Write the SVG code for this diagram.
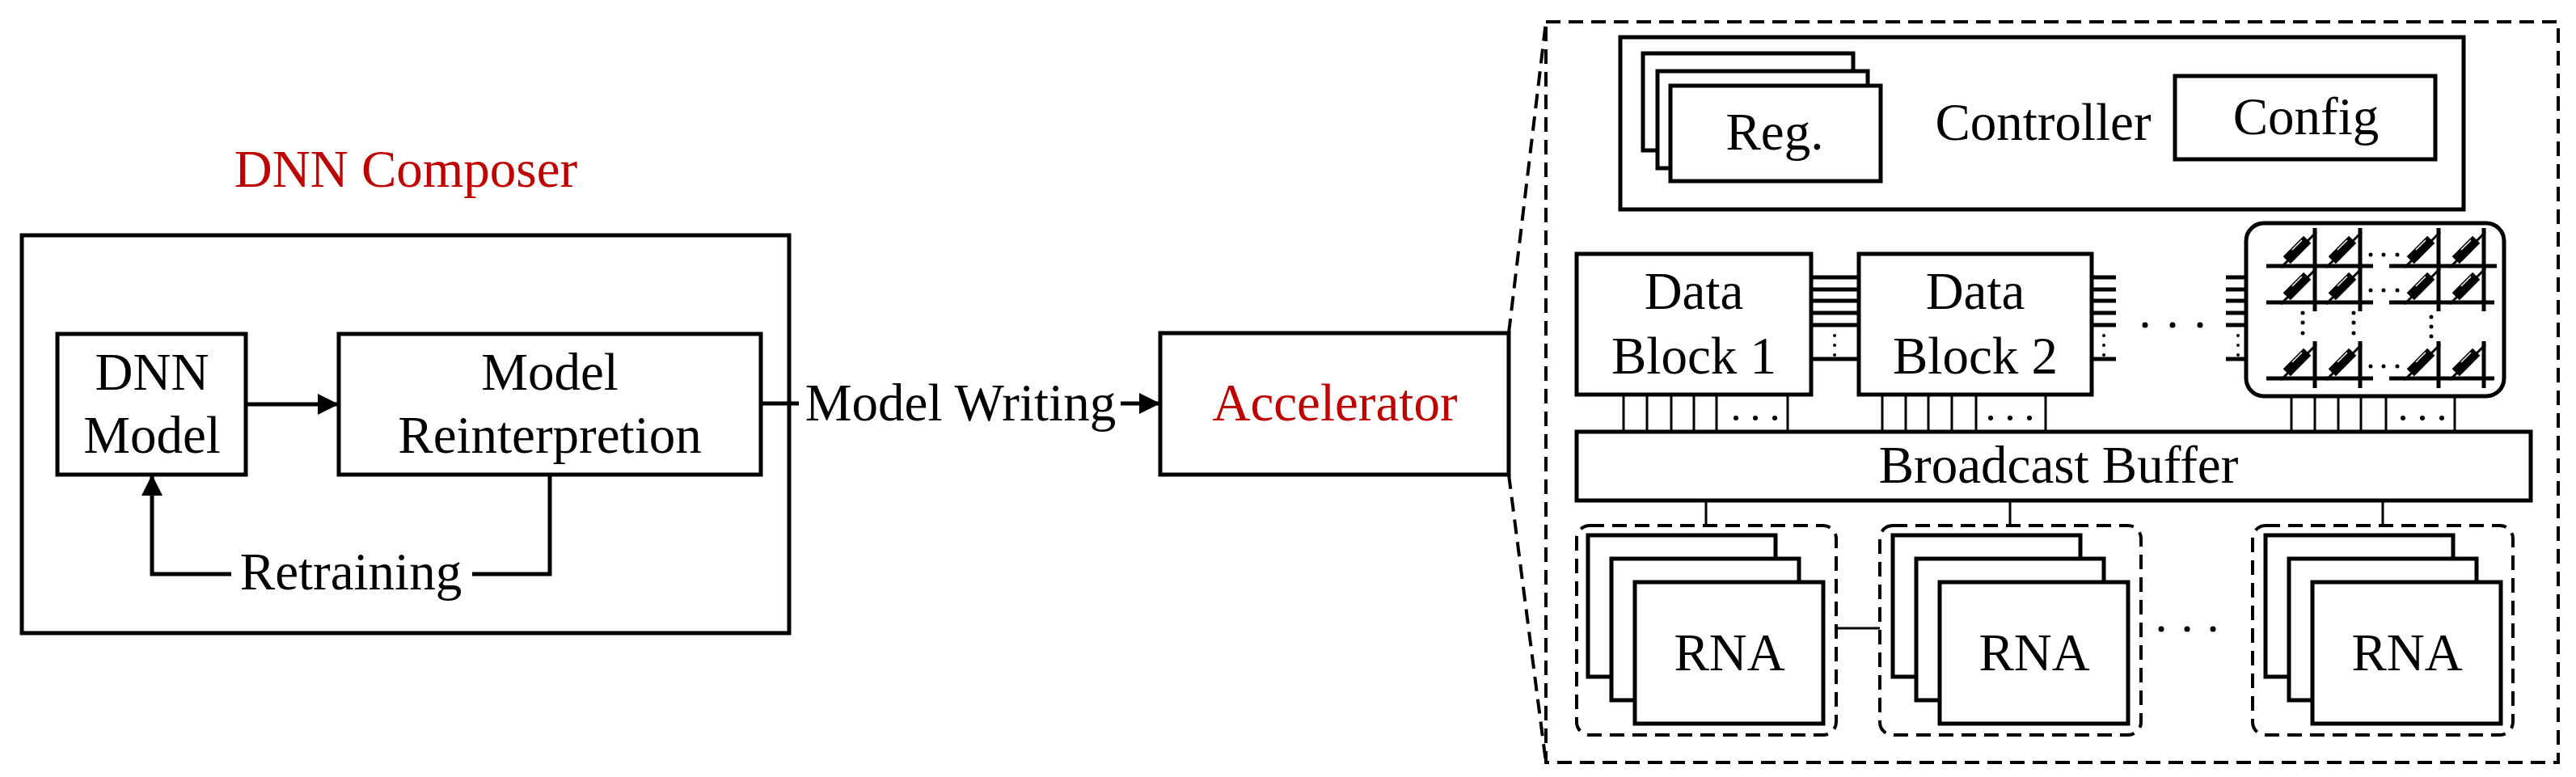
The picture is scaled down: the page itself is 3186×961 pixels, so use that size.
<svg xmlns="http://www.w3.org/2000/svg" width="3186" height="961" viewBox="0 0 3186 961">
<defs>
<style>
text{font-family:"Liberation Serif","Times New Roman",serif;font-size:65px;fill:#000;text-anchor:middle}
.red{fill:#c00000}
.b{fill:#fff;stroke:#000;stroke-width:5}
.l{fill:none;stroke:#000;stroke-width:5}
.t{fill:none;stroke:#000;stroke-width:3}
.d{fill:none;stroke:#000;stroke-width:4;stroke-dasharray:18 10}
.dot{fill:#000}
</style>
<marker id="ar" viewBox="0 0 10 10" refX="10" refY="5" markerWidth="28" markerHeight="26" markerUnits="userSpaceOnUse" orient="auto"><path d="M0,0L10,5L0,10Z"/></marker>
<g id="mem"><line x1="-42" y1="2" x2="2" y2="-42" stroke="#000" stroke-width="3"/><rect x="-18" y="-6.5" width="36" height="13" transform="translate(-22,-20) rotate(-45)" fill="#000"/><line x1="-28" y1="-20" x2="-16" y2="-32" stroke="#fff" stroke-width="1.5"/></g>
<g id="rnastack"><rect class="b" x="1964" y="662" width="232" height="175"/><rect class="b" x="1993" y="691" width="232" height="175"/><rect class="b" x="2022" y="720" width="233" height="175"/><text x="2139" y="829">RNA</text></g>
</defs>
<g id="composer-title"><text class="red" x="502" y="231">DNN Composer</text></g>
<g id="composer"><rect class="l" x="27" y="291" width="949" height="492"/></g>
<g id="dnn-model"><rect class="b" x="71" y="413" width="233" height="174"/><text x="188" y="482">DNN</text><text x="188" y="560">Model</text></g>
<g id="reinterp"><rect class="b" x="419" y="413" width="522" height="174"/><text x="680" y="482">Model</text><text x="680" y="560">Reinterpretion</text></g>
<g id="accelerator"><rect class="b" x="1435" y="412" width="431" height="175"/><text class="red" x="1651" y="520">Accelerator</text></g>
<g id="zoom-box"><rect class="d" x="1912" y="27" width="1252" height="916"/></g>
<g id="controller"><rect class="b" x="2004" y="46" width="1043" height="213"/><text x="2527" y="173">Controller</text>
<rect class="b" x="2032" y="66" width="260" height="120"/><rect class="b" x="2050" y="88" width="260" height="120"/><rect class="b" x="2066" y="106" width="260" height="118"/><text x="2195" y="185">Reg.</text>
<rect class="b" x="2690" y="94" width="322" height="103"/><text x="2852" y="166">Config</text></g>
<g id="data-block-1"><rect class="b" x="1950" y="314" width="290" height="174"/><text x="2095" y="382">Data</text><text x="2095" y="462">Block 1</text></g>
<g id="data-block-2"><rect class="b" x="2299" y="314" width="288" height="174"/><text x="2443" y="382">Data</text><text x="2443" y="462">Block 2</text></g>
<g id="crossbar"><rect class="b" x="2778" y="276" width="319" height="214" rx="22"/>
<g class="l" stroke-width="4">
<line x1="2863" y1="282" x2="2863" y2="385"/><line x1="2919" y1="282" x2="2919" y2="385"/><line x1="3016" y1="282" x2="3016" y2="385"/><line x1="3072" y1="282" x2="3072" y2="385"/>
<line x1="2863" y1="422" x2="2863" y2="480"/><line x1="2919" y1="422" x2="2919" y2="480"/><line x1="3016" y1="422" x2="3016" y2="480"/><line x1="3072" y1="422" x2="3072" y2="480"/>
<line x1="2803" y1="329" x2="2935" y2="329"/><line x1="2955" y1="329" x2="3088" y2="329"/>
<line x1="2803" y1="374" x2="2935" y2="374"/><line x1="2955" y1="374" x2="3085" y2="374"/>
<line x1="2803" y1="468" x2="2935" y2="468"/><line x1="2955" y1="468" x2="3085" y2="468"/>
</g>
<use href="#mem" x="2863" y="329"/><use href="#mem" x="2919" y="329"/><use href="#mem" x="3016" y="329"/><use href="#mem" x="3072" y="329"/>
<use href="#mem" x="2863" y="374"/><use href="#mem" x="2919" y="374"/><use href="#mem" x="3016" y="374"/><use href="#mem" x="3072" y="374"/>
<use href="#mem" x="2863" y="468"/><use href="#mem" x="2919" y="468"/><use href="#mem" x="3016" y="468"/><use href="#mem" x="3072" y="468"/>
<g class="dot">
<circle cx="2932" cy="315" r="2.5"/><circle cx="2948" cy="315" r="2.5"/><circle cx="2965" cy="315" r="2.5"/>
<circle cx="2932" cy="359" r="2.5"/><circle cx="2948" cy="359" r="2.5"/><circle cx="2965" cy="359" r="2.5"/>
<circle cx="2932" cy="453" r="2.5"/><circle cx="2948" cy="453" r="2.5"/><circle cx="2965" cy="453" r="2.5"/>
<circle cx="2848" cy="387" r="2.5"/><circle cx="2848" cy="399" r="2.5"/><circle cx="2848" cy="412" r="2.5"/>
<circle cx="2911" cy="387" r="2.5"/><circle cx="2911" cy="399" r="2.5"/><circle cx="2911" cy="412" r="2.5"/>
<circle cx="3007" cy="392" r="2.5"/><circle cx="3007" cy="404" r="2.5"/><circle cx="3007" cy="416" r="2.5"/>
</g></g>
<g id="broadcast-buffer"><rect class="b" x="1950" y="534" width="1180" height="85"/><text x="2546" y="597">Broadcast Buffer</text></g>
<g id="rna-group-1"><rect class="d" x="1950" y="650" width="321" height="259" rx="16"/><use href="#rnastack"/></g>
<g id="rna-group-2"><rect class="d" x="2325" y="650" width="323" height="259" rx="16"/><use href="#rnastack" x="377"/></g>
<g id="rna-group-3"><rect class="d" x="2786" y="650" width="322" height="259" rx="16"/><use href="#rnastack" x="838"/></g>
<g id="connectors">
<line class="l" x1="304" y1="500" x2="419" y2="500" marker-end="url(#ar)"/>
<polyline class="l" points="680,587 680,710 584,710"/>
<polyline class="l" points="286,710 188,710 188,587" marker-end="url(#ar)"/>
<text x="434" y="729">Retraining</text>
<line class="l" x1="941" y1="499" x2="988" y2="499"/>
<text x="1188" y="520">Model Writing</text>
<line class="l" x1="1386" y1="499" x2="1435" y2="499" marker-end="url(#ar)"/>
<line class="d" x1="1866" y1="412" x2="1912" y2="27"/>
<line class="d" x1="1866" y1="587" x2="1912" y2="943"/>
<g class="l" stroke-width="4">
<line x1="2240" y1="343" x2="2299" y2="343"/><line x1="2240" y1="358" x2="2299" y2="358"/><line x1="2240" y1="372" x2="2299" y2="372"/><line x1="2240" y1="387" x2="2299" y2="387"/><line x1="2240" y1="402" x2="2299" y2="402"/><line x1="2240" y1="444" x2="2299" y2="444"/>
<line x1="2587" y1="343" x2="2617" y2="343"/><line x1="2587" y1="358" x2="2617" y2="358"/><line x1="2587" y1="372" x2="2617" y2="372"/><line x1="2587" y1="387" x2="2617" y2="387"/><line x1="2587" y1="402" x2="2617" y2="402"/><line x1="2587" y1="444" x2="2617" y2="444"/>
<line x1="2753" y1="343" x2="2778" y2="343"/><line x1="2753" y1="358" x2="2778" y2="358"/><line x1="2753" y1="372" x2="2778" y2="372"/><line x1="2753" y1="387" x2="2778" y2="387"/><line x1="2753" y1="402" x2="2778" y2="402"/><line x1="2753" y1="444" x2="2778" y2="444"/>
</g>
<g class="dot">
<circle cx="2269" cy="415" r="2"/><circle cx="2269" cy="427" r="2"/><circle cx="2269" cy="439" r="2"/>
<circle cx="2602" cy="415" r="2"/><circle cx="2602" cy="427" r="2"/><circle cx="2602" cy="439" r="2"/>
<circle cx="2768" cy="415" r="2"/><circle cx="2768" cy="427" r="2"/><circle cx="2768" cy="439" r="2"/>
<circle cx="2653" cy="402" r="3.5"/><circle cx="2687" cy="402" r="3.5"/><circle cx="2721" cy="402" r="3.5"/>
<circle cx="2147" cy="517" r="3"/><circle cx="2171" cy="517" r="3"/><circle cx="2195" cy="517" r="3"/>
<circle cx="2462" cy="517" r="3"/><circle cx="2486" cy="517" r="3"/><circle cx="2510" cy="517" r="3"/>
<circle cx="2972" cy="517" r="3"/><circle cx="2996" cy="517" r="3"/><circle cx="3020" cy="517" r="3"/>
<circle cx="2673" cy="778" r="3.5"/><circle cx="2705" cy="778" r="3.5"/><circle cx="2737" cy="778" r="3.5"/>
</g>
<g class="t">
<line x1="2008" y1="488" x2="2008" y2="534"/><line x1="2037" y1="488" x2="2037" y2="534"/><line x1="2067" y1="488" x2="2067" y2="534"/><line x1="2095" y1="488" x2="2095" y2="534"/><line x1="2123" y1="488" x2="2123" y2="534"/><line x1="2211" y1="488" x2="2211" y2="534"/>
<line x1="2328" y1="488" x2="2328" y2="534"/><line x1="2357" y1="488" x2="2357" y2="534"/><line x1="2385" y1="488" x2="2385" y2="534"/><line x1="2414" y1="488" x2="2414" y2="534"/><line x1="2444" y1="488" x2="2444" y2="534"/><line x1="2530" y1="488" x2="2530" y2="534"/>
<line x1="2834" y1="490" x2="2834" y2="534"/><line x1="2863" y1="490" x2="2863" y2="534"/><line x1="2892" y1="490" x2="2892" y2="534"/><line x1="2920" y1="490" x2="2920" y2="534"/><line x1="2951" y1="490" x2="2951" y2="534"/><line x1="3036" y1="490" x2="3036" y2="534"/>
<line x1="2110" y1="619" x2="2110" y2="650"/><line x1="2486" y1="619" x2="2486" y2="650"/><line x1="2947" y1="619" x2="2947" y2="650"/>
<line x1="2271" y1="777" x2="2325" y2="777"/>
</g>
</g>
</svg>
